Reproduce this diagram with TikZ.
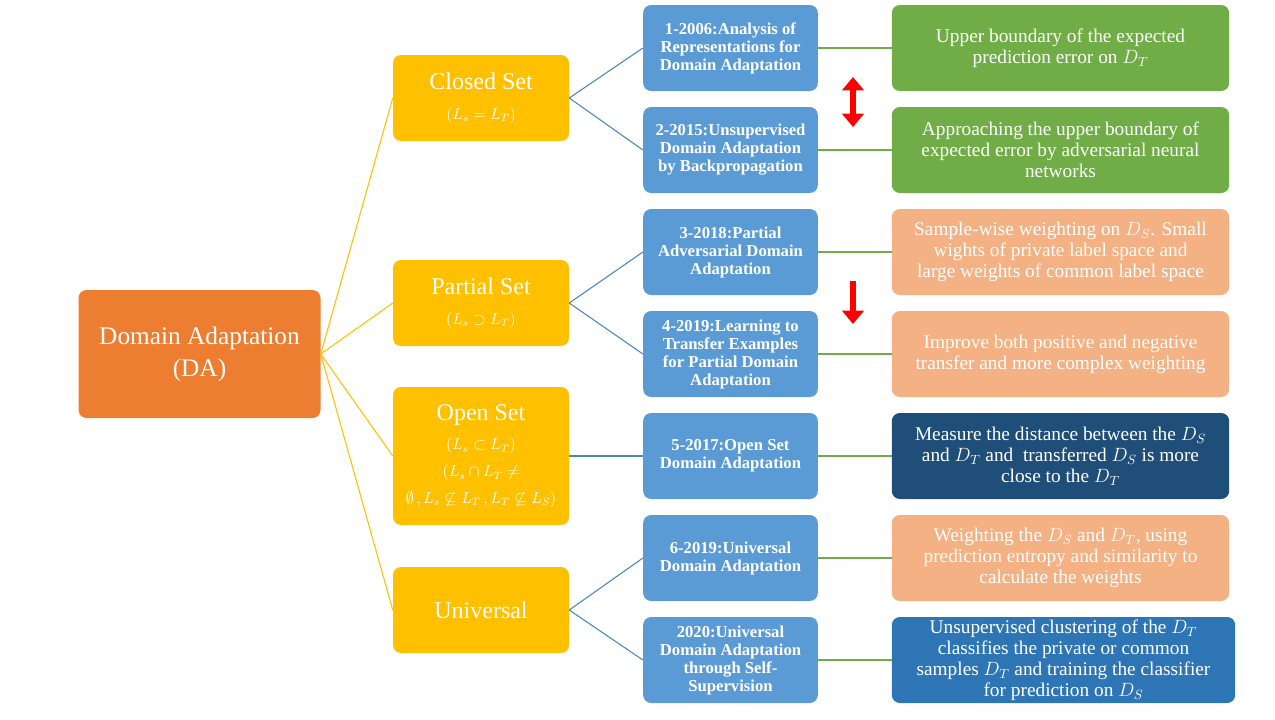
\documentclass[tikz,border=0pt]{standalone}
\usepackage{amsmath,amssymb}
\usepackage{fontspec}
\setmainfont{Liberation Serif}
\usetikzlibrary{arrows.meta}
\definecolor{org}{HTML}{ED7D31}
\definecolor{yel}{HTML}{FFC000}
\definecolor{blu}{HTML}{5B9BD5}
\definecolor{grn}{HTML}{70AD47}
\definecolor{sal}{HTML}{F4B183}
\definecolor{dbl}{HTML}{1F4E79}
\definecolor{mbl}{HTML}{2E75B6}
\definecolor{lblu}{HTML}{4A86C0}
\newcommand{\smf}{\fontsize{12}{14}\selectfont}
\begin{document}
\begin{tikzpicture}[x=0.75pt,y=-0.75pt,
 box/.style={rounded corners=6pt,inner sep=0pt,align=center,text=white},
 da/.style={box,fill=org,minimum width=181.5pt,minimum height=96pt,font=\fontsize{19}{24}\selectfont},
 st/.style={box,fill=yel,minimum width=132pt,minimum height=64.5pt,font=\fontsize{18}{20}\selectfont},
 pa/.style={box,fill=blu,minimum width=131pt,minimum height=64.5pt,font=\bfseries\fontsize{12.5}{13.5}\selectfont},
 rb/.style={box,minimum width=253pt,minimum height=64.5pt,font=\fontsize{14.5}{15.8}\selectfont},
 yl/.style={yel,line width=0.8pt},
 bl/.style={lblu,line width=0.8pt},
 gl/.style={grn,line width=0.8pt},
 redarr/.style={red,line width=5pt,>={Triangle[width=16pt,length=10pt]}}]
\useasboundingbox (0,0) rectangle (1275,719);
\node[da] (da) at (199.5,354) {Domain Adaptation\\(DA)};
\node[st] (c) at (481,98) {Closed Set\\[2pt]\smf$(L_s=L_T)$};
\node[st] (p) at (481,303) {Partial Set\\[2pt]\smf$(L_s\supset L_T)$};
\node[st,minimum height=103.5pt] (o) at (481,456) {Open Set\\[2pt]\smf$(L_s\subset L_T)$\\\smf$(L_s\cap L_T\neq$\\\smf$\emptyset\,,L_s\not\subseteq L_T\,,L_T\not\subseteq L_S)$};
\node[st] (u) at (481,610) {Universal};
\foreach \n/\y/\t in {p1/48/{1-2006:Analysis of\\Representations for\\Domain Adaptation},
 p2/150/{2-2015:Unsupervised\\Domain Adaptation\\by Backpropagation},
 p3/252/{3-2018:Partial\\Adversarial Domain\\Adaptation},
 p4/354/{4-2019:Learning to\\Transfer Examples\\for Partial Domain\\Adaptation},
 p5/456/{5-2017:Open Set\\Domain Adaptation},
 p6/558/{6-2019:Universal\\Domain Adaptation},
 p7/660/{2020:Universal\\Domain Adaptation\\through Self-\\Supervision}}
 \node[pa] (\n) at (730.5,\y) {\t};
\node[rb,fill=grn] (r1) at (1060.5,48) {Upper boundary of the expected\\prediction error on $D_T$};
\node[rb,fill=grn] (r2) at (1060.5,150) {Approaching the upper boundary of\\expected error by adversarial neural\\networks};
\node[rb,fill=sal] (r3) at (1060.5,252) {Sample-wise weighting on $D_S$. Small\\wights of private label space and\\large weights of common label space};
\node[rb,fill=sal] (r4) at (1060.5,354) {Improve both positive and negative\\transfer and more complex weighting};
\node[rb,fill=dbl] (r5) at (1060.5,456) {Measure the distance between the $D_S$\\and $D_T$ and~ transferred $D_S$ is more\\close to the $D_T$};
\node[rb,fill=sal] (r6) at (1060.5,558) {Weighting the $D_S$ and $D_T$, using\\prediction entropy and similarity to\\calculate the weights};
\node[rb,fill=mbl,minimum width=257.5pt] (r7) at (1063.5,660) {Unsupervised clustering of the $D_T$\\classifies the private or common\\samples $D_T$ and training the classifier\\for prediction on $D_S$};
\foreach \s in {c,p,o,u} \draw[yl] (da.east) -- (\s.west);
\draw[bl] (c.east) -- (p1.west); \draw[bl] (c.east) -- (p2.west);
\draw[bl] (p.east) -- (p3.west); \draw[bl] (p.east) -- (p4.west);
\draw[bl] (o.east) -- (p5.west);
\draw[bl] (u.east) -- (p6.west); \draw[bl] (u.east) -- (p7.west);
\foreach \i in {1,...,7} \draw[gl] (p\i.east) -- (r\i.west);
\coordinate (a1) at (853,77); \coordinate (a2) at (853,127);
\coordinate (b1) at (853,281); \coordinate (b2) at (853,324);
\draw[redarr,<->] (a1) -- (a2);
\draw[redarr,->] (b1) -- (b2);
\end{tikzpicture}
\end{document}
